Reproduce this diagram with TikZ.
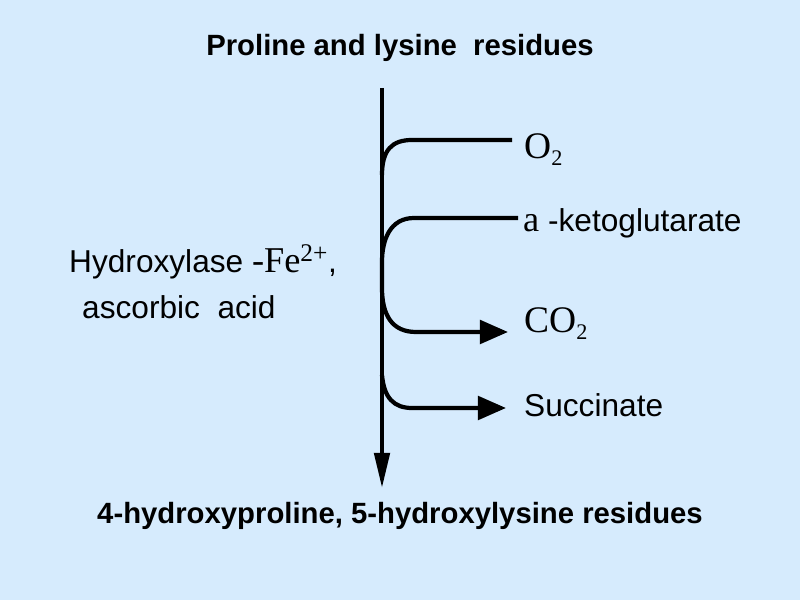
\documentclass[tikz,border=0pt]{standalone}
\usepackage{fontspec}
\setmainfont{Liberation Sans}
\newfontfamily\serifx{Liberation Serif}
\usetikzlibrary{arrows.meta}
\definecolor{bg}{HTML}{D6EBFD}
\begin{document}
\begin{tikzpicture}[x=0.03cm,y=-0.03cm,
  ln/.style={line width=3.6pt},
  tip/.style={-{Triangle[length=24pt,width=20pt]}},
  tipb/.style={-{Triangle[length=30pt,width=13pt]}},
  lbl/.style={anchor=west,inner sep=0pt,font=\fontsize{27}{30}\selectfont},
  ttl/.style={inner sep=0pt,font=\bfseries\fontsize{25}{28}\selectfont}]
\fill[bg] (0,0) rectangle (800,600);
\useasboundingbox (0,0) rectangle (800,600);
\node[ttl] (top) at (400,48) {Proline and lysine\ \ residues};
\node[ttl] (bot) at (400,516) {4-hydroxyproline, 5-hydroxylysine residues};
\coordinate (s) at (382,88);
\coordinate (e) at (382,488);
\draw[ln,tipb] (s) -- (e);
\coordinate (o2e) at (512,140);
\draw[ln] (382,175) .. controls (382,150) and (392,140) .. (412,140) -- (o2e);
\coordinate (ke) at (518,218);
\draw[ln,tip] (ke) -- (414,218) .. controls (390,218) and (382,240) .. (382,262) -- (382,288) .. controls (382,315) and (392,332) .. (416,332) -- (508,332);
\draw[ln,tip] (382,375) .. controls (384,398) and (394,408) .. (412,408) -- (506,408);
\node[lbl] (o2) at (524,150) {\serifx\fontsize{32}{34}\selectfont O\raisebox{-0.4ex}{\fontsize{19}{20}\selectfont 2}};
\node[lbl] (kg) at (523,223) {{\serifx\fontsize{31}{32}\selectfont a} -ketoglutarate};
\node[lbl] (co2) at (524,324) {\serifx\fontsize{32}{34}\selectfont CO\raisebox{-0.4ex}{\fontsize{19}{20}\selectfont 2}};
\node[lbl] (suc) at (524,405) {Succinate};
\node[lbl] (hy) at (69,262) {Hydroxylase {\serifx\fontsize{31}{32}\selectfont-Fe\textsuperscript{2+}},};
\node[lbl] (asc) at (82,307) {ascorbic\ \ acid};
\end{tikzpicture}
\end{document}
